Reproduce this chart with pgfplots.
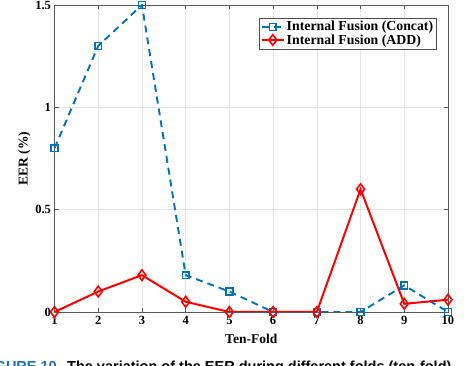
\documentclass[border=0pt]{standalone}
\usepackage{pgfplots}
\pgfplotsset{compat=1.18}
\usepackage{fontspec}
\setmainfont{Liberation Serif}
\setsansfont{Liberation Sans}
\definecolor{mblue}{RGB}{0,114,189}
\definecolor{capblue}{RGB}{25,110,190}
\definecolor{mred}{RGB}{255,0,0}
\begin{document}
\begin{tikzpicture}
\path[use as bounding box] (0,0) rectangle (474pt,366pt);
\clip (0,0) rectangle (474pt,366pt);
\begin{axis}[
  at={(54.5pt,54pt)}, anchor=south west,
  scale only axis, width=393.5pt, height=307pt,
  xmin=1, xmax=10, ymin=0, ymax=1.5,
  xtick={1,2,3,4,5,6,7,8,9,10},
  ytick={0,0.5,1,1.5},
  yticklabels={0,0.5,1,1.5},
  /pgf/number format/assume math mode=true,
  ticklabel style={font=\bfseries\fontsize{12.5}{14}\selectfont},
  xticklabel style={yshift=-1pt},
  label style={font=\bfseries\fontsize{13.5}{15}\selectfont},
  xlabel={Ten-Fold},
  xlabel style={yshift=-2pt},
  ylabel={EER (\%)},
  ylabel style={yshift=-2pt},
  grid=major,
  major grid style={gray!22, line width=0.6pt},
  axis line style={black!65, line width=0.7pt},
  tick style={black!65, line width=0.6pt},
  tick align=inside,
  major tick length=4pt,
  legend style={at={(0.972,0.959)}, anchor=north east,
    font=\bfseries\fontsize{13.8}{15}\selectfont,
    draw=black!70, line width=0.6pt, fill=white,
    inner sep=1.5pt, row sep=-2pt, cells={anchor=west}},
  legend cell align=left,
  legend image code/.code={
    \draw[mark repeat=2,mark phase=2] plot coordinates {(0pt,0pt) (11pt,0pt) (22pt,0pt)};
  },
]
\addplot[color=mblue, line width=1.9pt, dash pattern=on 7pt off 5pt,
  mark=square, mark size=3.4pt, mark options={solid, line width=1.5pt, fill=none}]
  coordinates {(1,0.80) (2,1.30) (3,1.50) (4,0.18) (5,0.10) (6,0) (7,0) (8,0) (9,0.13) (10,0)};
\addlegendentry{Internal Fusion (Concat)}
\addplot[color=mred, line width=2pt,
  mark=diamond, mark size=5.3pt, mark options={solid, line width=1.6pt, fill=none}]
  coordinates {(1,0) (2,0.10) (3,0.18) (4,0.05) (5,0) (6,0) (7,0) (8,0.60) (9,0.04) (10,0.06)};
\addlegendentry{Internal Fusion (ADD)}
\end{axis}
\node[anchor=base east, font=\sffamily\bfseries\fontsize{14.5}{16}\selectfont, text=capblue, inner sep=0pt] at (61pt,-6pt) {FIGURE 10.};
\node[anchor=base west, font=\sffamily\bfseries\fontsize{14.5}{16}\selectfont, inner sep=0pt] at (67pt,-6pt) {The variation of the EER during different folds (ten-fold).};
\end{tikzpicture}
\end{document}
